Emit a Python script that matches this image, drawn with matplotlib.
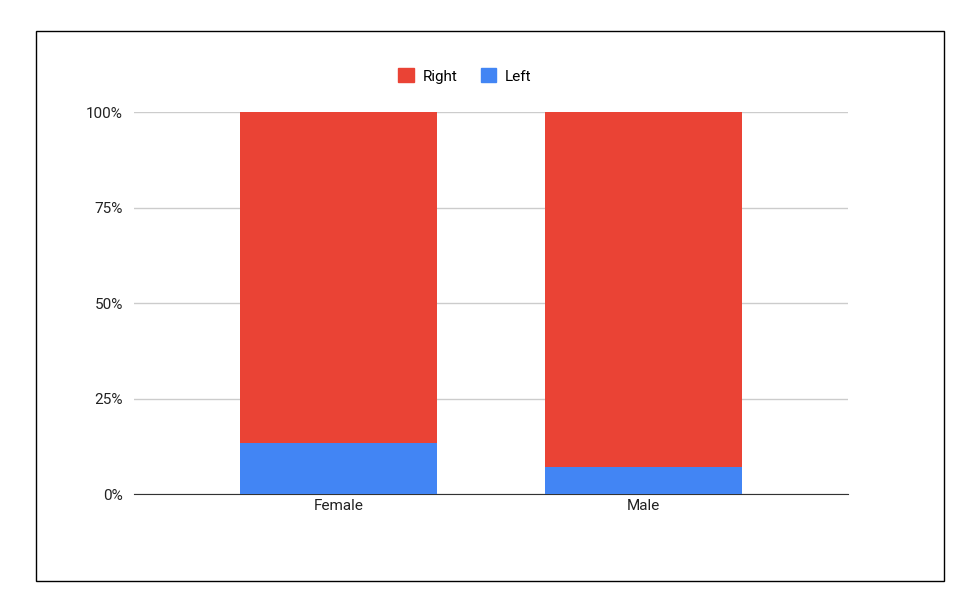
import matplotlib
matplotlib.use('Agg')
import matplotlib.pyplot as plt
import matplotlib.patches as mpatches
from matplotlib.ticker import FuncFormatter

categories = ["Female", "Male"]
left_pct = [13.4, 7.1]
right_pct = [86.6, 92.9]

COLOR_RIGHT = "#EA4335"
COLOR_LEFT = "#4285F4"

fig = plt.figure(figsize=(9.66, 6.10), dpi=100)
plt.rcParams['font.family'] = ['Roboto', 'DejaVu Sans']

# Moldura preta
fig.patches.append(mpatches.Rectangle((36 / 966, 1 - 581 / 610), 908 / 966, 550 / 610,
                                      transform=fig.transFigure, fill=False,
                                      edgecolor='black', linewidth=1))

ax = fig.add_axes([134 / 966, 1 - 494 / 610, 714 / 966, 382 / 610])
x = list(range(len(categories)))
ax.bar(x, left_pct, width=0.646, color=COLOR_LEFT, zorder=3)
ax.bar(x, right_pct, bottom=left_pct, width=0.646, color=COLOR_RIGHT, zorder=3)

ax.set_xlim(-0.67, 1.67)
ax.set_ylim(0, 100)
ax.set_xticks(x)
ax.set_xticklabels(categories, fontsize=11)
ax.set_yticks([0, 25, 50, 75, 100])
ax.yaxis.set_major_formatter(FuncFormatter(lambda v, _: f"{v:.0f}%"))
ax.tick_params(axis='both', length=0, labelsize=11, colors='#222222')
ax.tick_params(axis='y', pad=8)
ax.grid(True, axis='y', color='#CCCCCC', linewidth=1, zorder=0)
for s in ['top', 'right', 'left']:
    ax.spines[s].set_visible(False)
ax.spines['bottom'].set_color('#333333')

handles = [mpatches.Patch(color=COLOR_RIGHT, label='Right'),
           mpatches.Patch(color=COLOR_LEFT, label='Left')]
fig.legend(handles=handles, loc='center', bbox_to_anchor=(465 / 966, 1 - 76 / 610),
           ncol=2, frameon=False, fontsize=11, handlelength=1.0, handleheight=1.0,
           columnspacing=1.5, handletextpad=0.6)

fig.savefig('out.png', dpi=100, facecolor='white')
